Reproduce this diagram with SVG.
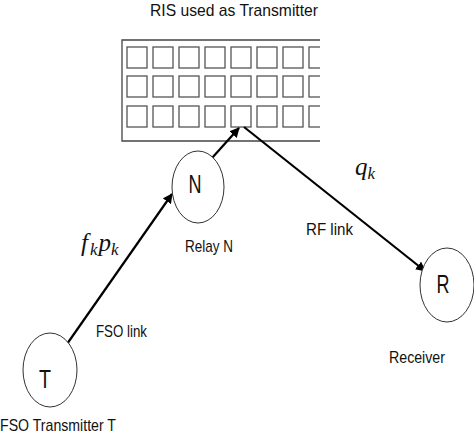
<svg xmlns="http://www.w3.org/2000/svg" width="474" height="436" viewBox="0 0 474 436">
<defs>
<style>
.lbl{font-family:"Liberation Sans",Arial,sans-serif;font-size:17px;fill:#111}
.node{fill:#fff;stroke:#333;stroke-width:1}
.ntxt{font-family:"Liberation Sans",Arial,sans-serif;font-size:26px;fill:#111;text-anchor:middle}
.math{font-family:"Liberation Serif","Times New Roman",serif;font-style:italic;fill:#111}
.cell{fill:#fff;stroke:#555;stroke-width:1.3}
.link{stroke:#000;stroke-width:2.2;fill:none}
</style>
<marker id="ah" viewBox="0 0 10 10" refX="9" refY="5" markerWidth="4.5" markerHeight="4.5" orient="auto">
<path d="M0,0 L10,5 L0,10 z" fill="#000"/>
</marker>
<clipPath id="risclip"><rect x="120" y="38" width="200" height="106"/></clipPath>
</defs>
<rect width="474" height="436" fill="#fff"/>
<g id="ris">
<text class="lbl" x="150" y="16" textLength="168" lengthAdjust="spacingAndGlyphs">RIS used as Transmitter</text>
<path d="M320,40 H122 V141 H320" fill="none" stroke="#444" stroke-width="1.3"/>
<g clip-path="url(#risclip)">
<rect class="cell" x="127" y="47" width="20" height="21"/><rect class="cell" x="153" y="47" width="20" height="21"/><rect class="cell" x="179" y="47" width="20" height="21"/><rect class="cell" x="205" y="47" width="20" height="21"/><rect class="cell" x="231" y="47" width="20" height="21"/><rect class="cell" x="257" y="47" width="20" height="21"/><rect class="cell" x="283" y="47" width="20" height="21"/><rect class="cell" x="309" y="47" width="20" height="21"/>
<rect class="cell" x="127" y="76" width="20" height="21"/><rect class="cell" x="153" y="76" width="20" height="21"/><rect class="cell" x="179" y="76" width="20" height="21"/><rect class="cell" x="205" y="76" width="20" height="21"/><rect class="cell" x="231" y="76" width="20" height="21"/><rect class="cell" x="257" y="76" width="20" height="21"/><rect class="cell" x="283" y="76" width="20" height="21"/><rect class="cell" x="309" y="76" width="20" height="21"/>
<rect class="cell" x="127" y="106" width="20" height="21"/><rect class="cell" x="153" y="106" width="20" height="21"/><rect class="cell" x="179" y="106" width="20" height="21"/><rect class="cell" x="205" y="106" width="20" height="21"/><rect class="cell" x="231" y="106" width="20" height="21"/><rect class="cell" x="257" y="106" width="20" height="21"/><rect class="cell" x="283" y="106" width="20" height="21"/><rect class="cell" x="309" y="106" width="20" height="21"/>
</g>
</g>
<g id="connectors">
<line class="link" x1="67" y1="344" x2="172" y2="194" marker-end="url(#ah)"/>
<line class="link" x1="212" y1="158" x2="239" y2="128" marker-end="url(#ah)"/>
<line class="link" x1="244" y1="127" x2="425" y2="271" marker-end="url(#ah)"/>
<text class="lbl" x="96" y="337" textLength="51" lengthAdjust="spacingAndGlyphs">FSO link</text>
<text class="lbl" x="306" y="235" textLength="47" lengthAdjust="spacingAndGlyphs">RF link</text>
<text class="math" x="81" y="251" font-size="25">f<tspan font-size="17" dx="2" dy="4">k</tspan><tspan dx="1" dy="-4">p</tspan><tspan font-size="17" dy="4">k</tspan></text>
<text class="math" x="355" y="175" font-size="25">q<tspan font-size="17" dy="4">k</tspan></text>
</g>
<g id="relay">
<ellipse class="node" cx="198" cy="187" rx="26" ry="36"/>
<text class="ntxt" x="195" y="193" textLength="13" lengthAdjust="spacingAndGlyphs">N</text>
<text class="lbl" x="185" y="252" textLength="48" lengthAdjust="spacingAndGlyphs">Relay N</text>
</g>
<g id="transmitter">
<ellipse class="node" cx="50" cy="370" rx="27" ry="37"/>
<text class="ntxt" x="45" y="388" textLength="12" lengthAdjust="spacingAndGlyphs">T</text>
<text class="lbl" x="0" y="431" textLength="116" lengthAdjust="spacingAndGlyphs">FSO Transmitter T</text>
</g>
<g id="receiver">
<ellipse class="node" cx="447" cy="285" rx="27" ry="37"/>
<text class="ntxt" x="443" y="293" textLength="13" lengthAdjust="spacingAndGlyphs">R</text>
<text class="lbl" x="389" y="363" textLength="56" lengthAdjust="spacingAndGlyphs">Receiver</text>
</g>
</svg>
